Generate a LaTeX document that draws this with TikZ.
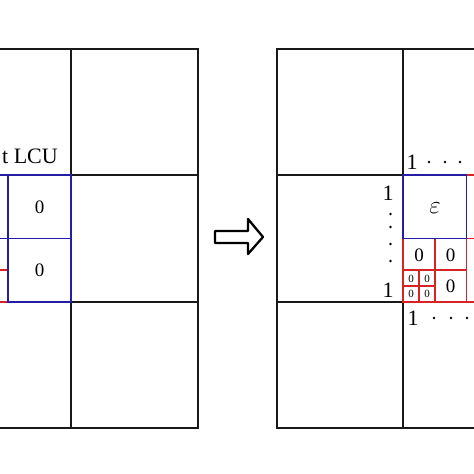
\documentclass[tikz,border=0pt]{standalone}
\usepackage{fontspec}
\setmainfont{Liberation Serif}
\definecolor{lcublue}{RGB}{35,30,165}
\definecolor{splitred}{RGB}{215,35,35}
\tikzset{
  gridline/.style={draw=black!90, line width=2.1pt},
  blueline/.style={draw=lcublue, line width=1.8pt},
  redline/.style={draw=splitred, line width=1.6pt},
  zero/.style={font=\fontsize{19}{19}\selectfont, inner sep=0pt},
  tinyzero/.style={font=\fontsize{11}{11}\selectfont, inner sep=0pt},
  idx/.style={font=\fontsize{22}{22}\selectfont, inner sep=0pt},
  dotmark/.style={circle, fill=black, inner sep=0pt, minimum size=2.6pt},
  blockarrow/.style={draw=black, line width=2.3pt, line join=round, fill=white}
}
\begin{document}
\begin{tikzpicture}[x=1pt, y=-1pt]
\useasboundingbox (0,0) rectangle (474,474);
\clip (0,0) rectangle (474,474);
% ---------- left picture ----------
\draw[gridline] (-56,49) rectangle (198,428);
\draw[gridline] (71,49) -- (71,428);
\draw[gridline] (-56,175) -- (198,175);
\draw[gridline] (-56,302) -- (198,302);
% split of bottom-left quadrant (red)
\draw[redline] (-56,238.5) rectangle (8,302);
\draw[redline] (-56,270.25) -- (8,270.25);
\draw[redline] (-24,238.5) -- (-24,302);
% LCU (blue)
\draw[blueline] (-56,175) rectangle (71,302);
\draw[blueline] (8,175) -- (8,302);
\draw[blueline] (-56,238.5) -- (71,238.5);
\draw[redline] (-56,302) -- (7,302);
\node[zero] (lz1) at (39.5,207) {0};
\node[zero] (lz2) at (39.5,270) {0};
\node[font=\fontsize{22}{22}\selectfont, inner sep=0pt, anchor=base east] (cap) at (58,163) {t LCU};
% ---------- arrow ----------
\draw[blockarrow] (215,231) -- (248,231) -- (248,219) -- (263,237) -- (248,254) -- (248,243) -- (215,243) -- cycle;
% ---------- right picture ----------
\draw[gridline] (277,49) rectangle (530,428);
\draw[gridline] (403,49) -- (403,428);
\draw[gridline] (277,175) -- (530,175);
\draw[gridline] (277,302) -- (530,302);
% red splits
\draw[redline] (403,175) rectangle (530,302);
\draw[redline] (466.5,175) -- (466.5,302);
\draw[redline] (403,238.5) -- (530,238.5);
\draw[redline] (434.75,238.5) -- (434.75,302);
\draw[redline] (403,270.25) -- (466.5,270.25);
\draw[redline] (418.9,270.25) -- (418.9,302);
\draw[redline] (403,286.1) -- (434.75,286.1);
% epsilon quadrant (blue)
\draw[blueline] (403,175) rectangle (466.5,238.5);
\node[font=\fontsize{23}{23}\selectfont, inner sep=0pt] (eps) at (435,208) {$\varepsilon$};
\node[zero] (rz1) at (419,255) {0};
\node[zero] (rz2) at (450.6,255) {0};
\node[zero] (rz3) at (450.6,286.5) {0};
\node[tinyzero] (tz1) at (411,278.5) {0};
\node[tinyzero] (tz2) at (427,278.5) {0};
\node[tinyzero] (tz3) at (411,294) {0};
\node[tinyzero] (tz4) at (427,294) {0};
% index labels
\node[idx] (top1) at (412,162) {1};
\node[dotmark] (td1) at (429,162) {};
\node[dotmark] (td2) at (445,162) {};
\node[dotmark] (td3) at (460,162) {};
\node[idx] (bot1) at (413,318) {1};
\node[dotmark] (bd1) at (434,318) {};
\node[dotmark] (bd2) at (451,318) {};
\node[dotmark] (bd3) at (467,318) {};
\node[idx] (left1) at (388,193) {1};
\node[dotmark] (ld1) at (390.5,214) {};
\node[dotmark] (ld2) at (390.5,227) {};
\node[dotmark] (ld3) at (390.5,244) {};
\node[dotmark] (ld4) at (390.5,261) {};
\node[idx] (left2) at (388,290) {1};
\end{tikzpicture}
\end{document}
